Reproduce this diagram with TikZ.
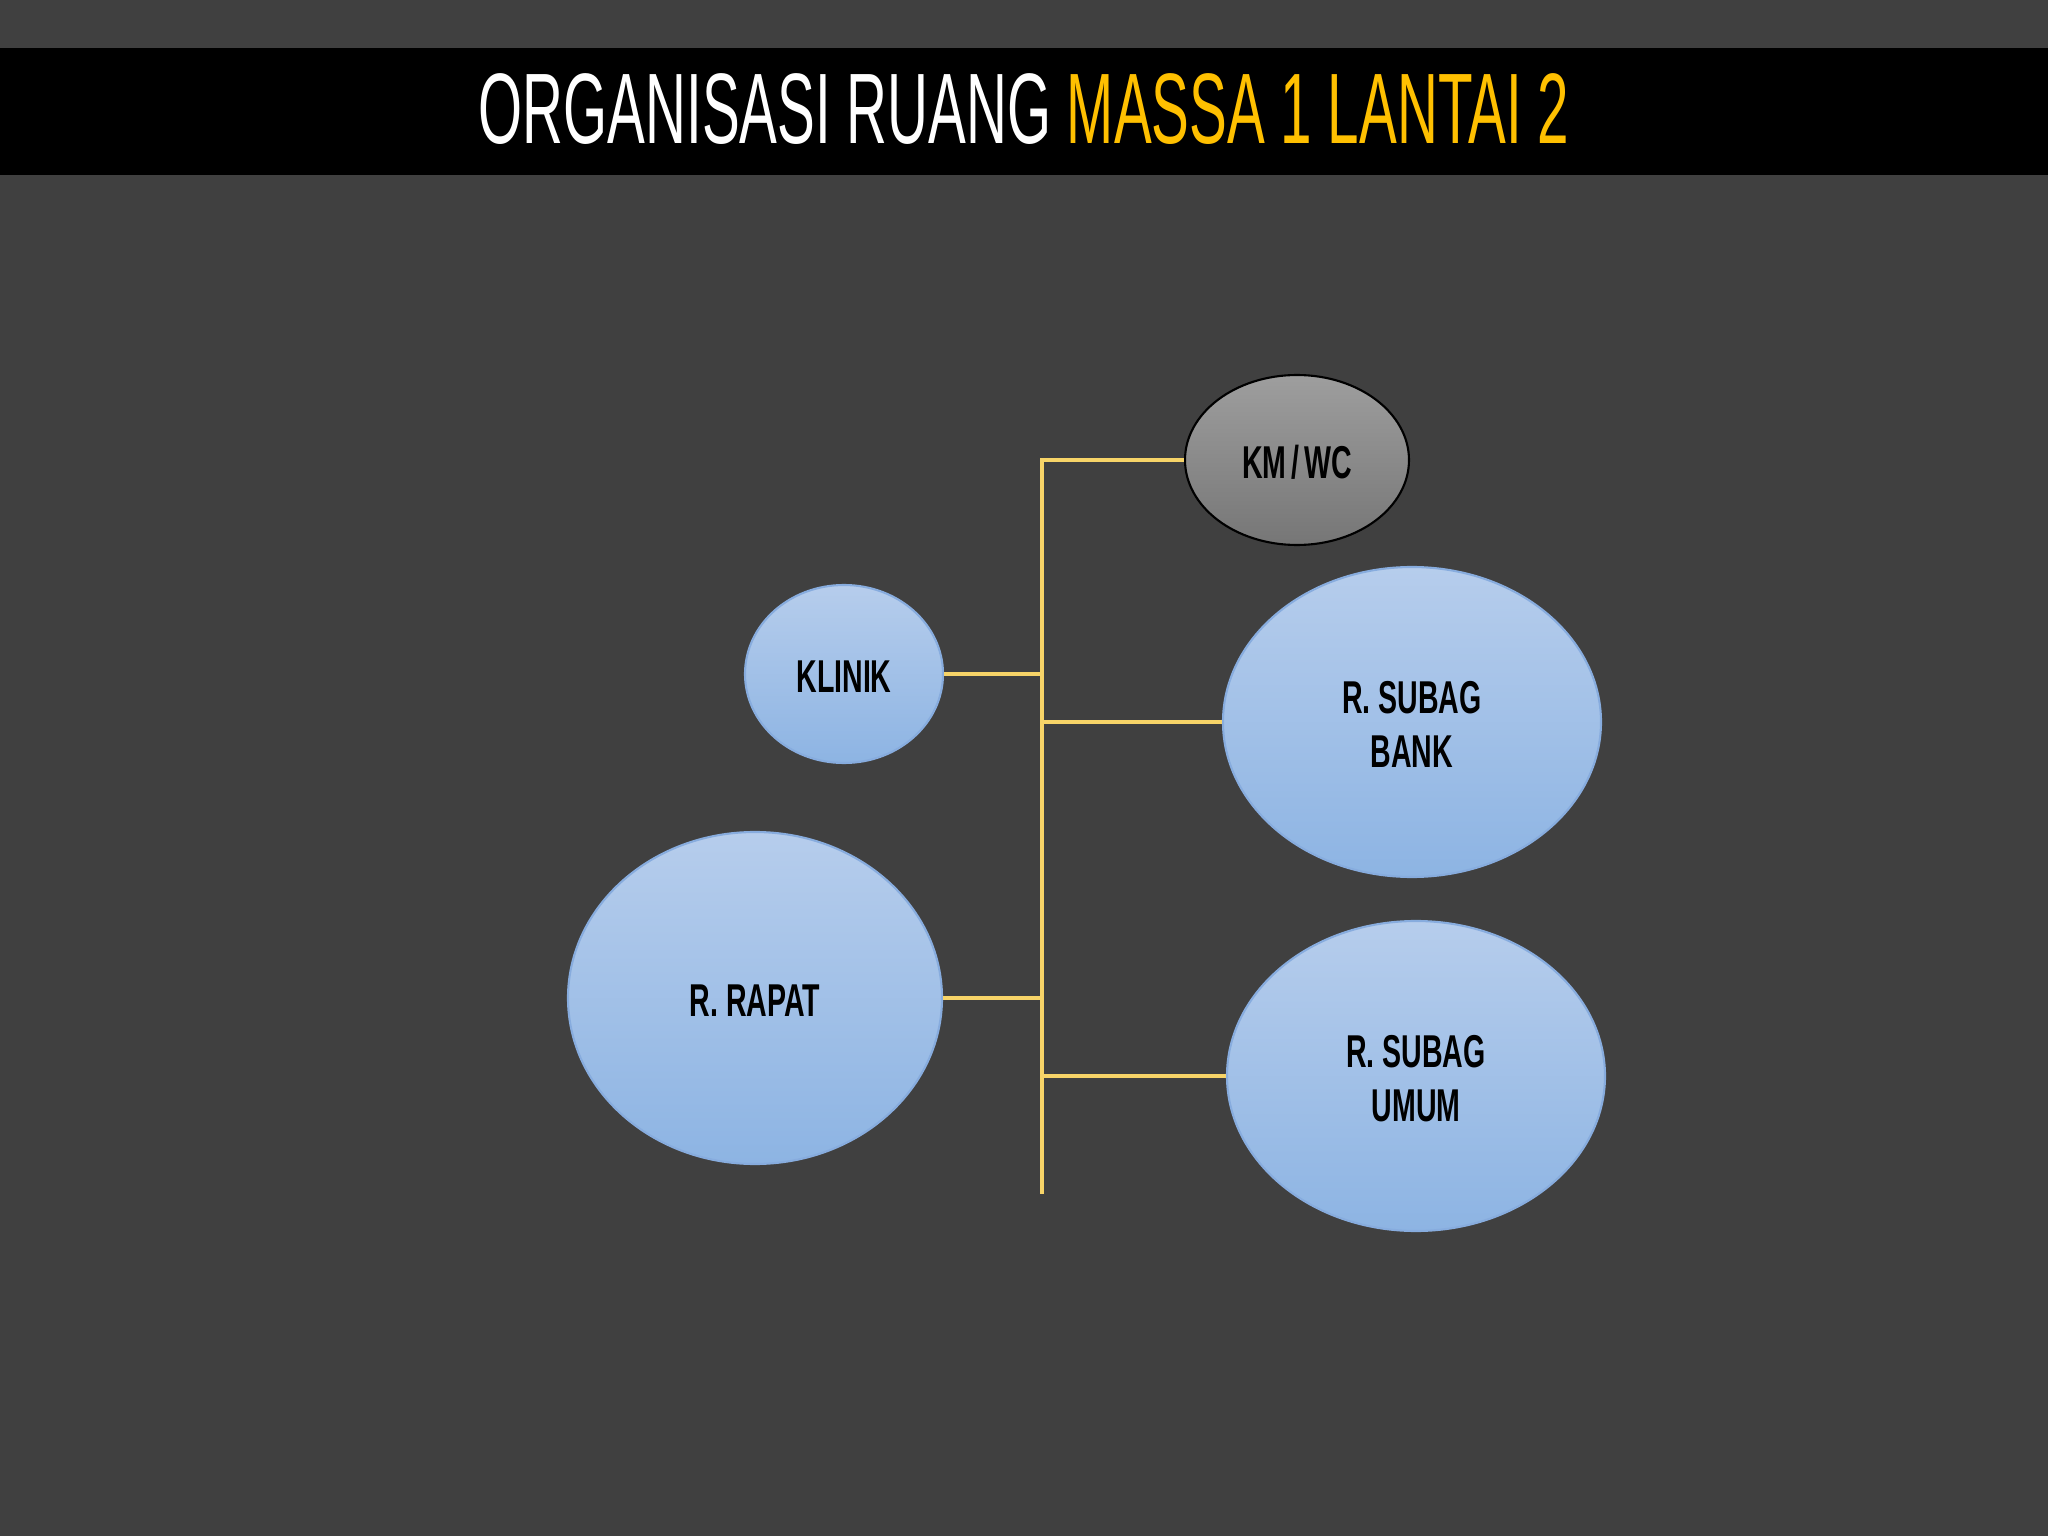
\documentclass[tikz,border=0pt]{standalone}
\usepackage{fontspec}
\setmainfont{Liberation Sans}
\usetikzlibrary{positioning}
\usetikzlibrary{shapes.geometric}
\definecolor{slide}{RGB}{64,64,64}
\definecolor{titleyellow}{RGB}{255,192,0}
\definecolor{linkyellow}{RGB}{247,212,104}
\definecolor{roomtop}{RGB}{182,205,236}
\definecolor{roombot}{RGB}{141,180,227}
\definecolor{roomline}{RGB}{135,172,222}
\definecolor{wctop}{RGB}{158,158,158}
\definecolor{wcbot}{RGB}{118,118,118}
\tikzstyle{room} = [ellipse, draw=roomline, line width=0.6pt, top color=roomtop, bottom color=roombot, inner sep=0pt, font=\fontsize{13.1}{15.4}\selectfont\bfseries]
\tikzstyle{wc} = [room, draw=black, top color=wctop, bottom color=wcbot]
\tikzstyle{link} = [draw=linkyellow, line width=1.1pt]
\tikzstyle{coord} = [coordinate]
\newcommand{\roomname}[1]{\raisebox{-2.3pt}[\height][\depth]{\scalebox{0.62}[1]{\begin{tabular}{@{}c@{}}#1\end{tabular}}}}

\begin{document}
\begin{tikzpicture}
    \useasboundingbox (0,0) rectangle (20.48,-15.36);
    \fill [slide] (0,0) rectangle (20.48,-15.36);
    \fill [black] (0,-0.48) rectangle (20.48,-1.75);
    \node [anchor=base, inner sep=0pt, text=white, font=\fontsize{28.5}{30}\selectfont] (title) at (10.24,-1.44) {\scalebox{0.565}[1]{ORGANISASI RUANG \textcolor{titleyellow}{MASSA 1 LANTAI 2}}};

    \node [wc, minimum width=2.24cm, minimum height=1.70cm] (kmwc) at (12.97,-4.60) {\roomname{KM\,/\,WC}};
    \node [room, minimum width=1.98cm, minimum height=1.78cm] (klinik) at (8.44,-6.74) {\roomname{KLINIK}};
    \node [room, minimum width=3.78cm, minimum height=3.10cm] (bank) at (14.12,-7.22) {\roomname{R. SUBAG\\BANK}};
    \node [room, minimum width=3.74cm, minimum height=3.32cm] (rapat) at (7.55,-9.98) {\roomname{R. RAPAT}};
    \node [room, minimum width=3.78cm, minimum height=3.10cm] (umum) at (14.16,-10.76) {\roomname{R. SUBAG\\UMUM}};

    \node [coord] (top) at (10.42,-4.60) {};
    \node [coord] (bot) at (10.42,-11.94) {};

    \draw [link] (kmwc) -- (top) -- (bot); % connections
    \draw [link] (klinik) -- (klinik -| top);
    \draw [link] (bank) -- (bank -| top);
    \draw [link] (rapat) -- (rapat -| top);
    \draw [link] (umum) -- (umum -| top);
\end{tikzpicture}
\end{document}
